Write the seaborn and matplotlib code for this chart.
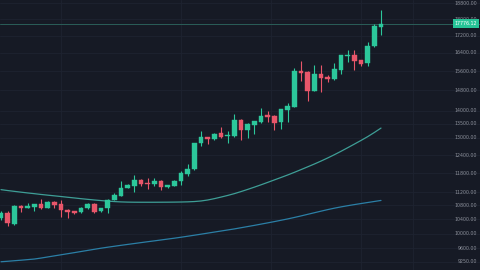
import numpy as np
import pandas as pd
import matplotlib
matplotlib.use("Agg")
import matplotlib.pyplot as plt
import seaborn as sns

# ---- data ----
opens = [10427, 10591, 10259, 10782, 10735, 10764, 10832, 10735, 10890, 10832,
         10676, 10637, 10600, 10714, 10853, 10637, 10714, 10960, 11090, 11333,
         11395, 11582, 11476, 11457, 11551, 11351, 11395, 11541, 11772, 11943,
         12806, 13017, 12940, 13160, 13052, 13063, 13662, 13278, 13458, 13568,
         13825, 13806, 13558, 14027, 14153, 15605, 15588, 14782, 15490, 15336,
         15277, 15670, 16277, 16321, 16087, 15949, 16710, 17630]
highs = [10650, 10650, 10800, 10800, 10861, 10845, 10988, 10930, 10920, 10960,
         10690, 10650, 10760, 10875, 10870, 10730, 10980, 11160, 11541, 11467,
         11750, 11600, 11646, 11646, 11570, 11430, 11590, 11856, 12106, 12000,
         13232, 13040, 13170, 13385, 13245, 13867, 13690, 13520, 13630, 14107,
         13980, 13830, 14080, 14315, 15730, 16026, 15610, 15862, 15862, 15458,
         15958, 16330, 16544, 16544, 16100, 16910, 17750, 18449]
lows = [10370, 10195, 10230, 10620, 10714, 10630, 10685, 10710, 10735, 10476,
        10447, 10560, 10585, 10700, 10581, 10620, 10570, 10950, 11080, 11320,
        11210, 11383, 11312, 11383, 11256, 11330, 11380, 11436, 11718, 11900,
        12722, 12771, 12920, 13000, 12806, 13040, 12920, 12975, 13134, 13550,
        13580, 13295, 13313, 13568, 14130, 15208, 14364, 14760, 14740, 15126,
        15250, 15500, 16000, 15670, 15810, 15840, 16650, 17240]
closes = [10591, 10287, 10782, 10714, 10794, 10832, 10714, 10898, 10811, 10655,
          10600, 10581, 10735, 10853, 10620, 10714, 10960, 11099, 11342, 11414,
          11570, 11457, 11445, 11560, 11351, 11414, 11560, 11791, 11943, 12806,
          13017, 12940, 13146, 13017, 13099, 13662, 13278, 13495, 13605, 13814,
          13768, 13532, 14057, 14191, 15596, 15543, 14782, 15490, 15307, 15277,
          15713, 16299, 16321, 16026, 15928, 16725, 17660, 17776.12]
ma_fast = [11278, 11250, 11225, 11200, 11176, 11154, 11130, 11109, 11088, 11067,
           11045, 11024, 11002, 10982, 10963, 10945, 10929, 10915, 10905, 10899,
           10896, 10895, 10895, 10895, 10896, 10897, 10899, 10902, 10907, 10916,
           10933, 10962, 11003, 11050, 11100, 11155, 11218, 11285, 11355, 11428,
           11504, 11582, 11660, 11740, 11825, 11914, 12005, 12098, 12196, 12300,
           12410, 12527, 12650, 12776, 12905, 13040, 13190, 13350]
ma_slow = [9256, 9268, 9282, 9295, 9310, 9325, 9350, 9378, 9406, 9434,
           9462, 9490, 9519, 9548, 9577, 9606, 9632, 9657, 9682, 9706,
           9730, 9754, 9778, 9801, 9825, 9849, 9873, 9899, 9926, 9954,
           9982, 10011, 10040, 10069, 10098, 10127, 10160, 10193, 10226, 10261,
           10296, 10332, 10370, 10408, 10450, 10494, 10540, 10586, 10632, 10677,
           10719, 10757, 10792, 10825, 10856, 10887, 10918, 10949]
price_ticks = [9250, 9600, 10000, 10400, 10800, 11200, 11800, 12400, 13000,
               13500, 14000, 14800, 15600, 16400, 17200, 18000, 18800]
last_price = 17776.12

# ---- style ----
BG = "#161a25"
UP = "#2cc79b"
DOWN = "#e8566a"
GRID = "#1e2330"

sns.set_theme(style="dark", rc={"axes.facecolor": BG, "figure.facecolor": BG})
plt.rcParams["font.family"] = ["DejaVu Sans"]

df = pd.DataFrame({"i": np.arange(len(opens)), "open": opens, "high": highs,
                   "low": lows, "close": closes,
                   "ma_fast": ma_fast, "ma_slow": ma_slow})

fig = plt.figure(figsize=(4.8, 2.7), dpi=100)
ax = fig.add_axes([0, 0, 1, 1])
ax.set_facecolor(BG)
ax.set_yscale("log")
ax.set_xlim(-0.15, 71.85)
ax.set_ylim(9049, 18962)

# grid
for t in price_ticks:
    ax.axhline(t, color=GRID, lw=0.6, zorder=0)
for gx in [9, 27, 40.5, 54, 61.8]:
    ax.axvline(gx, color=GRID, lw=0.6, zorder=0)

# moving averages
sns.lineplot(data=df, x="i", y="ma_fast", ax=ax, color="#3e9e96", lw=0.9, zorder=2)
sns.lineplot(data=df, x="i", y="ma_slow", ax=ax, color="#2b7fa6", lw=0.9, zorder=2)

# candles
up = df["close"] >= df["open"]
colors = np.where(up, UP, DOWN)
ax.vlines(df["i"], df["low"], df["high"], colors=colors, lw=0.8, zorder=3)
bottoms = np.minimum(df["open"], df["close"])
heights = np.abs(df["close"] - df["open"])
heights = np.maximum(heights, bottoms * 0.0012)
ax.bar(df["i"], heights, bottom=bottoms, width=0.68, color=colors,
       edgecolor=colors, lw=0.3, zorder=4)

# last-price line
ax.axhline(last_price, color="#2a5e58", lw=0.7, zorder=1)

# price scale labels
for t in price_ticks:
    ax.text(0.994, t, f"{t:.2f}", transform=ax.get_yaxis_transform(),
            ha="right", va="center", fontsize=3.4, color="#8b8f99", zorder=5)
ax.text(0.994, last_price, f"{last_price:.2f}", transform=ax.get_yaxis_transform(),
        ha="right", va="center", fontsize=3.4, color="#ffffff", zorder=6,
        bbox=dict(boxstyle="square,pad=0.35", fc="#26c497", ec="none"))

ax.set_xticks([])
ax.set_yticks([], minor=True)
ax.set_yticks([])
ax.set_xlabel("")
ax.set_ylabel("")
for s in ax.spines.values():
    s.set_visible(False)

fig.savefig("out.png", dpi=100, facecolor=BG)
